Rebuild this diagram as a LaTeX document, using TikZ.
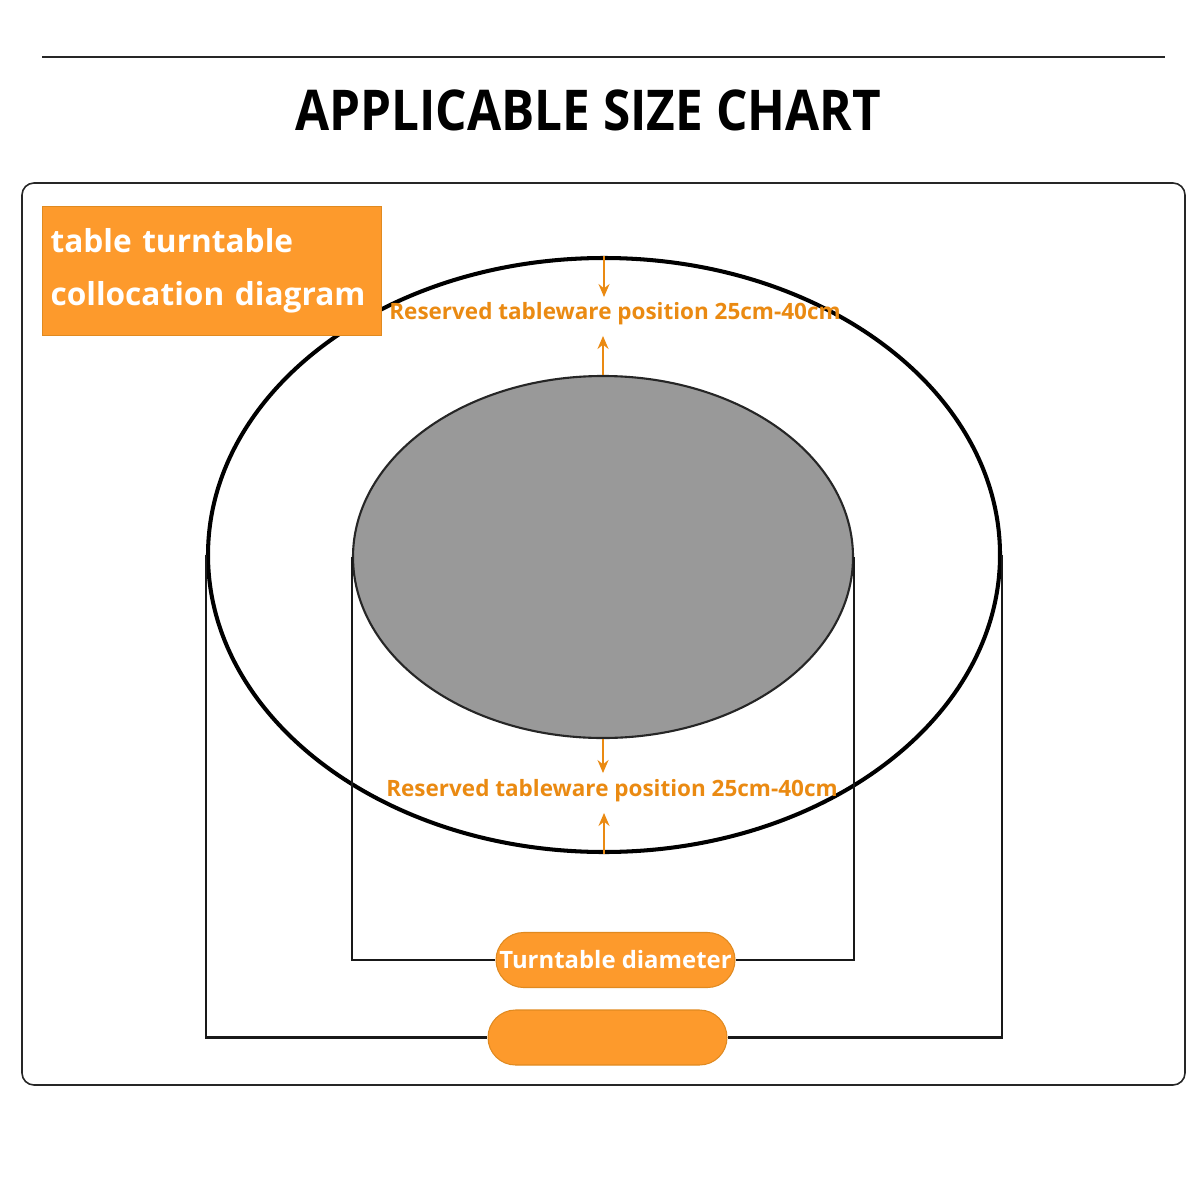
\documentclass[tikz,border=0pt]{standalone}
\usepackage{fontspec}
\setmainfont{Open Sans}
\usepackage{xcolor}
\usetikzlibrary{arrows.meta,shapes.geometric}
\definecolor{tgorange}{HTML}{FD9A2C}
\definecolor{tgedge}{HTML}{E08A20}
\definecolor{tgtext}{HTML}{EA8A12}
\definecolor{tggray}{HTML}{999999}
\tikzset{
  tbl/.style={ellipse,draw=black,line width=1.15pt,minimum width=79.2mm,minimum height=59.4mm,inner sep=0pt},
  tt/.style={ellipse,draw=black!85,fill=tggray,line width=0.6pt,minimum width=50mm,minimum height=36.2mm,inner sep=0pt},
  pill/.style={draw=tgedge,fill=tgorange,line width=0.3pt,rounded corners=2.75mm,minimum width=23.9mm,minimum height=5.5mm,inner sep=0pt,text=white,font=\fontsize{6.8}{8}\bfseries},
  resv/.style={text=tgtext,inner sep=0pt,font=\fontsize{6.4}{7}\bfseries},
  rarr/.style={draw=tgtext,line width=0.55pt,-{Stealth[length=1.3mm,width=1.1mm]}},
  brk/.style={line width=0.6pt,black!90}
}
\begin{document}
\begin{tikzpicture}[x=0.1mm,y=-0.1mm]
\useasboundingbox (0,0) rectangle (1200,1200);
\draw[line width=0.45pt,black!85] (42,57) -- (1165,57);
\node[font=\fontsize{16}{16}\bfseries] (title) at (588,110) {\scalebox{0.88}[1]{APPLICABLE SIZE CHART}};
\draw[line width=0.45pt,black!85,rounded corners=1.2mm] (22,183) rectangle (1185,1085);
\node[tbl] (table) at (604,555) {};
\node[tt] (turn) at (603,557) {};
\node[fill=tgorange,draw=tgedge,line width=0.3pt,anchor=north west,minimum height=12.9mm,text width=32.3mm,inner xsep=0.8mm,inner ysep=0pt,align=left,text=white,font=\fontsize{9}{15}\bfseries] (tag) at (42,206) {table turntable\\collocation diagram};
\node[resv] (rtop) at (615,314) {Reserved tableware position 25cm-40cm};
\node[resv] (rbot) at (612,791) {Reserved tableware position 25cm-40cm};
\draw[rarr,shorten >=0.5mm] (table.north) -- (table.north |- rtop.north);
\draw[rarr,shorten >=1mm] (turn.north) -- (turn.north |- rtop.south);
\draw[rarr,shorten >=0.6mm] (turn.south) -- (turn.south |- rbot.north);
\draw[rarr,shorten >=1mm] (table.south) -- (table.south |- rbot.south);
\node[pill] (dia) at (615.5,960) {Turntable diameter};
\node[pill] (tdia) at (607.5,1037.5) {};
\draw[brk] (turn.west) |- (dia.west);
\draw[brk] (turn.east) |- (dia.east);
\draw[brk] (table.west) |- (tdia.west);
\draw[brk] (table.east) |- (tdia.east);
\end{tikzpicture}
\end{document}
